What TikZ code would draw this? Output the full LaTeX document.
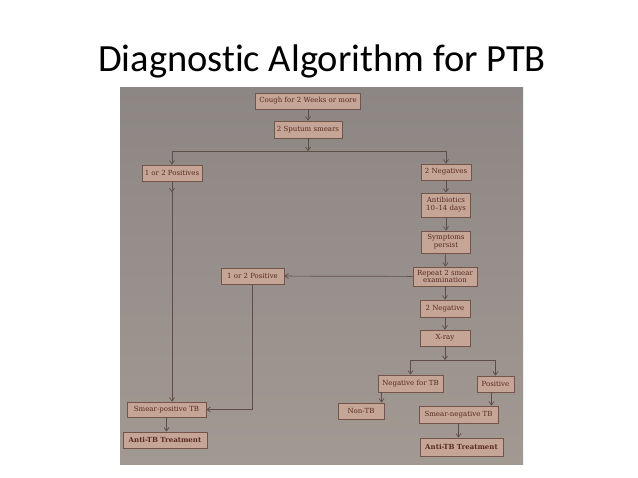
\documentclass[tikz,border=0pt]{standalone}
\usepackage{fontspec}
\setmainfont{DejaVu Serif}
\newfontfamily\titlefont[Ligatures={NoCommon,NoRare}]{Carlito}
\usetikzlibrary{calc, arrows.meta}

\definecolor{boxfill}{HTML}{C4A596}
\definecolor{boxline}{HTML}{74544A}
\definecolor{boxtext}{HTML}{5A2A22}
\definecolor{flowline}{HTML}{5F4D47}
\definecolor{phototop}{HTML}{8C8684}
\definecolor{photomid}{HTML}{ACA39E}
\definecolor{photobot}{HTML}{A39993}

\begin{document}
\begin{tikzpicture}[x=1pt, y=-1pt,
		stage/.style={draw=boxline, fill=boxfill, text=boxtext, line width=0.8pt,
			font=\fontsize{7}{7.8}\selectfont, align=center, inner sep=1pt,
			minimum height=16pt},
		flow/.style={-{Straight Barb[length=3.5pt, width=5pt]}, draw=flowline, line width=0.7pt}]
		% Draw the page and the photo
		\useasboundingbox (0,0) rectangle (638,478);
		\fill[white] (0,0) rectangle (638,478);
		\shade[top color=phototop, middle color=photomid, bottom color=photobot] (120,88) rectangle (523,465);

		\node[anchor=base] (title) at (322,72) {\titlefont\fontsize{38.5}{42}\selectfont Diagnostic Algorithm for PTB};

		% Draw the boxes
		\node[stage, minimum width=105pt] (cough) at (308,101) {Cough for 2 Weeks or more};
		\node[stage, minimum width=68pt, minimum height=17pt] (sputum) at (308,129.5) {2 Sputum smears};
		\node[stage, minimum width=60pt] (posA) at (172,173) {1 or 2 Positives};
		\node[stage, minimum width=50pt] (negA) at (446,172) {2 Negatives};
		\node[stage, minimum width=49pt, minimum height=24pt] (abx) at (446,205) {Antibiotics\\10--14 days};
		\node[stage, minimum width=49pt, minimum height=22pt] (symp) at (446,242) {Symptoms\\persist};
		\node[stage, minimum width=64pt, minimum height=19pt] (repeat) at (445,276.5) {Repeat 2 smear\\examination};
		\node[stage, minimum width=63pt] (posB) at (252.5,276) {1 or 2 Positive};
		\node[stage, minimum width=50pt, minimum height=17pt] (negB) at (445,308.5) {2 Negative};
		\node[stage, minimum width=50pt] (xray) at (445,338) {X-ray};
		\node[stage, minimum width=65pt, minimum height=17pt] (negTB) at (410.5,383.5) {Negative for TB};
		\node[stage, minimum width=37pt] (posC) at (495.5,384) {Positive};
		\node[stage, minimum width=46pt] (nontb) at (361,411) {Non-TB};
		\node[stage, minimum width=79pt, minimum height=17pt] (smearneg) at (458.5,414.5) {Smear-negative TB};
		\node[stage, minimum width=83pt, minimum height=18pt, font=\fontsize{7}{7.8}\selectfont\bfseries] (treatR) at (461.5,447) {Anti-TB Treatment};
		\node[stage, minimum width=79pt, minimum height=15pt] (smearpos) at (166.5,409.5) {Smear-positive TB};
		\node[stage, minimum width=84pt, font=\fontsize{7}{7.8}\selectfont\bfseries] (treatL) at (165,440) {Anti-TB Treatment};

		% Draw the splits
		\coordinate (split1) at (308,151);
		\coordinate (split2) at (445,360);

		% Draw the connectors
		\draw[flow] (cough) -- (sputum);
		\draw[flow] (sputum) -- (split1);
		\draw[flow] (split1) -| (posA);
		\draw[flow] (split1) -| (negA);
		\draw[flow] (posA.south) -- ++(0,11);
		\draw[flow] (posA.south) -- (posA.south |- smearpos.north);
		\draw[flow] (negA) -- (abx);
		\draw[flow] (abx) -- (symp);
		\draw[flow] (symp) -- (repeat);
		\draw[flow] (repeat) -- (posB);
		\draw[flow] (posB.south) |- (smearpos.east);
		\draw[flow] (repeat) -- (negB);
		\draw[flow] (negB) -- (xray);
		\draw[flow] (xray) -- (split2);
		\draw[flow] (split2) -| (negTB);
		\draw[flow] (split2) -| (posC);
		\draw[flow] ([xshift=-29pt]negTB.south) -- ([xshift=-29pt]negTB.south |- nontb.north);
		\draw[flow] ([xshift=-4pt]posC.south) -- ([xshift=-4pt]posC.south |- smearneg.north);
		\draw[flow] (smearneg.south) -- (smearneg.south |- treatR.north);
		\draw[flow] (smearpos) -- (smearpos.south |- treatL.north);

	\end{tikzpicture}
\end{document}
